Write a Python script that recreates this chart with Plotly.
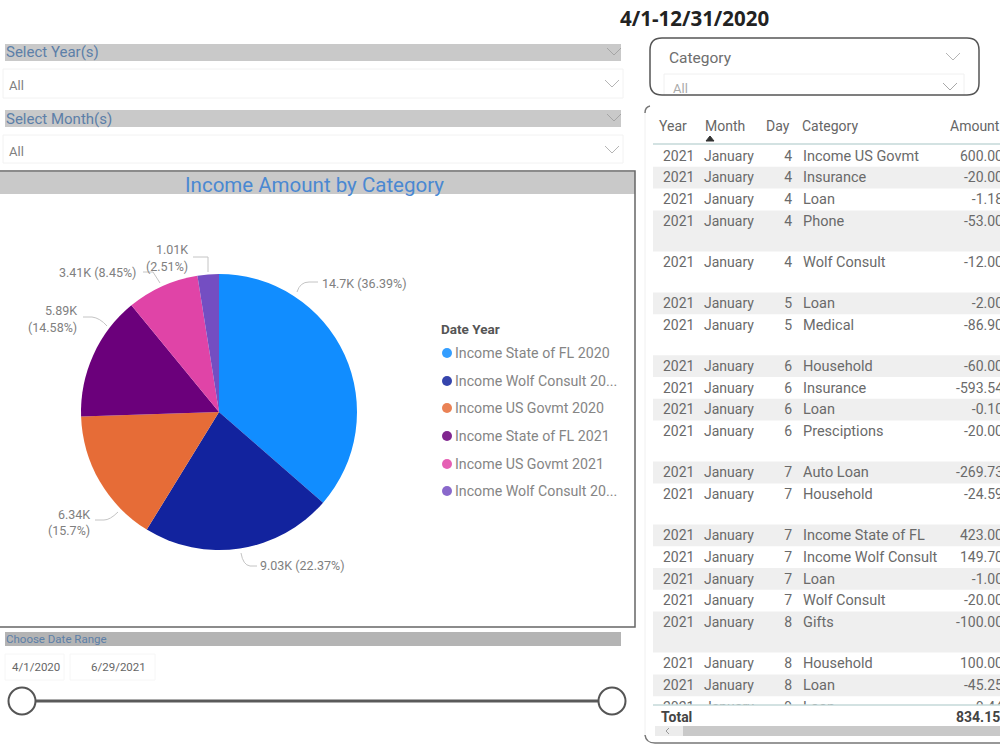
import plotly.graph_objects as go

# pie chart
SLICE_NAMES = ['Income State of FL 2020', 'Income Wolf Consult 2020', 'Income US Govmt 2020',
               'Income State of FL 2021', 'Income US Govmt 2021', 'Income Wolf Consult 2021']
LEGEND_NAMES = ['Income State of FL 2020', 'Income Wolf Consult 20...', 'Income US Govmt 2020',
                'Income State of FL 2021', 'Income US Govmt 2021', 'Income Wolf Consult 20...']
SLICE_AMOUNTS = [14700, 9030, 6340, 5890, 3410, 1010]
SLICE_SHORT = ['14.7K', '9.03K', '6.34K', '5.89K', '3.41K', '1.01K']
SLICE_PCT = ['36.39%', '22.37%', '15.7%', '14.58%', '8.45%', '2.51%']
SLICE_COLOURS = ['#118DFF', '#12239E', '#E66C37', '#6B007B', '#E044A7', '#744EC2']

# table
HEADERS = ['Year', 'Month', 'Day', 'Category', 'Amount']
YEARS = [2021] * 21
MONTHS = ['January'] * 21
DAYS = [4, 4, 4, 4, 4, 5, 5, 6, 6, 6, 6, 7, 7, 7, 7, 7, 7, 8, 8, 8, 9]
CATEGORIES = ['Income US Govmt', 'Insurance', 'Loan', 'Phone', 'Wolf Consult', 'Loan', 'Medical',
              'Household', 'Insurance', 'Loan', 'Presciptions', 'Auto Loan', 'Household',
              'Income State of FL', 'Income Wolf Consult', 'Loan', 'Wolf Consult', 'Gifts',
              'Household', 'Loan', 'Loan']
AMOUNTS = ['600.00', '-20.00', '-1.18', '-53.00', '-12.00', '-2.00', '-86.90', '-60.00', '-593.54',
           '-0.10', '-20.00', '-269.73', '-24.59', '423.00', '149.70', '-1.00', '-20.00', '-100.00',
           '100.00', '-45.25', '-0.44']
TOTAL = '834.15'

# rows that wrap onto a second line in the report
TALL_ROWS = {3, 4, 6, 10, 12, 17}

FONT = 'Roboto'
TEXT_GREY = '#6a6a6a'
BAR_GREY = '#c9c9c9'
TITLE_BLUE = '#4a88d2'
SLICER_BLUE = '#5c7fa8'
STRIPE = '#efefef'
TEAL_LINE = '#c4d8d8'

shapes = []
notes = []


def box(x0, y0, x1, y1, fill=None, line=None, width=1, layer='below'):
    shapes.append(dict(type='rect', xref='x', yref='y', x0=x0, y0=y0, x1=x1, y1=y1, layer=layer,
                       fillcolor=fill or 'rgba(0,0,0,0)',
                       line=dict(color=line or 'rgba(0,0,0,0)', width=width if line else 0)))


def path(d, colour, width=1, layer='above', fill=None):
    shapes.append(dict(type='path', xref='x', yref='y', path=d, layer=layer,
                       fillcolor=fill or 'rgba(0,0,0,0)',
                       line=dict(color=colour, width=width)))


def chevron(x, y, colour='#b5b5b5'):
    path(f'M{x - 7},{y - 4} L{x},{y + 3} L{x + 7},{y - 4}', colour, 1)


def label(x, y, text, size=13, colour=TEXT_GREY, anchor='left', bold=False, font=FONT):
    # annotations carry about 2px of padding
    nudge = {'left': -2, 'right': 2, 'center': 0}[anchor]
    notes.append(dict(xref='x', yref='y', x=x + nudge, y=y, text=f'<b>{text}</b>' if bold else text,
                      showarrow=False, xanchor=anchor, yanchor='middle',
                      font=dict(family=font, size=size, color=colour)))


# left slicers
box(5, 44, 621, 61, fill=BAR_GREY)
label(6, 52, 'Select Year(s)', 15, SLICER_BLUE)
chevron(614, 52, '#a5a5a5')
box(3, 69, 623, 98, line='#f2f2f2')
label(9, 85, 'All', 13, '#808080')
chevron(612, 84)
box(5, 110, 621, 127, fill=BAR_GREY)
label(6, 119, 'Select Month(s)', 15, SLICER_BLUE)
chevron(614, 118, '#a5a5a5')
box(3, 135, 623, 163, line='#f2f2f2')
label(9, 151, 'All', 13, '#808080')
chevron(612, 150)

# chart panel
box(-2, 172, 635, 194, fill=BAR_GREY)
box(-2, 171, 635, 627, line='#666666', width=1.5)
label(314, 185, 'Income Amount by Category', 20.5, TITLE_BLUE, anchor='center')

# leader lines next to the pie
path('M297,292 Q300,282 309,282 L318,282', '#c4c4c4')
path('M241,553 Q243,565 250,566 L257,566', '#c4c4c4')
path('M118,512 Q110,520 104,520 L95,520', '#c4c4c4')
path('M107,326 Q100,318 92,317 L83,317', '#c4c4c4')
path('M160,283 L153,272 L143,272', '#c4c4c4')
path('M208,272 L208,257 L193,257', '#c4c4c4')

label(322, 283, f'{SLICE_SHORT[0]} ({SLICE_PCT[0]})', 12.5, '#808080')
label(260, 565, f'{SLICE_SHORT[1]} ({SLICE_PCT[1]})', 12.5, '#808080')
label(90, 514, SLICE_SHORT[2], 12.5, '#808080', anchor='right')
label(90, 530, f'({SLICE_PCT[2]})', 12.5, '#808080', anchor='right')
label(77, 310, SLICE_SHORT[3], 12.5, '#808080', anchor='right')
label(77, 327, f'({SLICE_PCT[3]})', 12.5, '#808080', anchor='right')
label(59, 272, f'{SLICE_SHORT[4]} ({SLICE_PCT[4]})', 12.5, '#808080')
label(188, 249, SLICE_SHORT[5], 12.5, '#808080', anchor='right')
label(188, 266, f'({SLICE_PCT[5]})', 12.5, '#808080', anchor='right')

# legend
LEGEND_Y = [353, 381, 408, 436, 464, 491]
label(441, 329, 'Date Year', 13.5, '#555555', bold=True)
for name, y in zip(LEGEND_NAMES, LEGEND_Y):
    label(455, y, name, 14.2, '#858585')

# date range slicer
box(5, 632, 621, 646, fill='#b4b4b4')
label(6, 639, 'Choose Date Range', 11.5, SLICER_BLUE)
box(5, 654, 64, 680, line='#f6f6f6')
box(70, 654, 155, 680, line='#f6f6f6')
label(12, 667, '4/1/2020', 11.5, '#666666')
label(91, 667, '6/29/2021', 11.5, '#666666')
path('M30,701 L600,701', '#5a5a5a', 3, layer='below')

# right hand heading and category slicer
label(620, 18, '4/1-12/31/2020', 20.5, '#222222', bold=True, font='Open Sans')
box(664, 74, 964, 96, line='#f0f0f0')
label(669, 58, 'Category', 15.5, '#6e6e6e')
chevron(953, 57)
chevron(950, 87, '#a8a8a8')

# table rows
tops = [145]
for i in range(len(CATEGORIES)):
    tops.append(tops[-1] + (41 if i in TALL_ROWS else 21.8))
row_y = [t + 12 for t in tops[:-1]]
for i in range(1, len(CATEGORIES), 2):
    box(653, tops[i], 1001, tops[i + 1], fill=STRIPE)

# hides the row running under the total, and the slicer's lower edge
box(646, 705, 1001, 742, fill='white', layer='above')
box(645, 96, 1001, 104, fill='white', layer='above')

path('M662,38 L967,38 Q979,38 979,50 L979,83 Q979,95 967,95 L662,95 Q650,95 650,83 L650,50 Q650,38 662,38 Z',
     '#555555', 1.5)

for head, x in zip(HEADERS, [659, 705, 766, 802, 950]):
    label(x, 126, head, 14, '#666666')
path('M706,141 L710,136 L714,141 Z', '#333333', 1, fill='#333333')
path('M653,144 L1001,144', TEAL_LINE, 1.5)
path('M653,705 L1001,705', TEAL_LINE, 1.5)
label(661, 717, 'Total', 14, '#444444', bold=True)
label(956, 717, TOTAL, 14, '#444444', bold=True)

# scroll bar and outer frame of the table
box(655, 726, 1001, 736, fill='#ececec', layer='above')
box(683, 726, 1001, 736, fill='#c9c9c9', layer='above')
path('M669,728 L666,731 L669,734', '#999999', 1)
path('M645,735 Q646,743 655,743 L1001,743', '#777777', 1.5)
path('M645,113 Q645,107 650,106', '#777777', 1.5)
path('M645,113 L645,735', '#f0f0f0', 1, layer='below')

fig = go.Figure()

fig.add_trace(go.Pie(labels=SLICE_NAMES, values=SLICE_AMOUNTS, sort=False, direction='clockwise',
                     rotation=0, textinfo='none', hoverinfo='label+value+percent',
                     marker=dict(colors=SLICE_COLOURS, line=dict(width=0)),
                     domain=dict(x=[0.081, 0.357], y=[1 - 550 / 750, 1 - 274 / 750]),
                     showlegend=False))

# legend dots
fig.add_trace(go.Scatter(x=[447] * 6, y=LEGEND_Y, mode='markers', hoverinfo='skip',
                         marker=dict(size=10, color=SLICE_COLOURS, opacity=0.85)))

# slider handles
fig.add_trace(go.Scatter(x=[22, 612], y=[701, 701], mode='markers', hoverinfo='skip',
                         marker=dict(size=27, color='white', line=dict(color='#555555', width=2))))

# table columns, clipped by the right edge of the page like the report
fig.add_trace(go.Scatter(x=[663] * len(YEARS), y=row_y, mode='text', text=YEARS,
                         textposition='middle right', hoverinfo='skip',
                         textfont=dict(family=FONT, size=14, color=TEXT_GREY)))
fig.add_trace(go.Scatter(x=[704] * len(MONTHS), y=row_y, mode='text', text=MONTHS,
                         textposition='middle right', hoverinfo='skip',
                         textfont=dict(family=FONT, size=14, color=TEXT_GREY)))
fig.add_trace(go.Scatter(x=[792] * len(DAYS), y=row_y, mode='text', text=DAYS,
                         textposition='middle left', hoverinfo='skip',
                         textfont=dict(family=FONT, size=14, color=TEXT_GREY)))
fig.add_trace(go.Scatter(x=[803] * len(CATEGORIES), y=row_y, mode='text', text=CATEGORIES,
                         textposition='middle right', hoverinfo='skip',
                         textfont=dict(family=FONT, size=14.5, color=TEXT_GREY)))
fig.add_trace(go.Scatter(x=[1003] * len(AMOUNTS), y=row_y, mode='text', text=AMOUNTS,
                         textposition='middle left', hoverinfo='skip',
                         textfont=dict(family=FONT, size=14, color=TEXT_GREY)))
# "All" of the category slicer, cut by the box edge
fig.add_trace(go.Scatter(x=[673], y=[90], mode='text', text=['All'], textposition='middle right',
                         hoverinfo='skip', textfont=dict(family=FONT, size=13, color='#aaaaaa')))

fig.update_layout(width=1000, height=750, margin=dict(l=0, r=0, t=0, b=0), showlegend=False,
                  paper_bgcolor='white', plot_bgcolor='white', shapes=shapes, annotations=notes)
fig.update_xaxes(range=[0, 1000], visible=False, fixedrange=True)
fig.update_yaxes(range=[750, 0], visible=False, fixedrange=True)

fig.write_html("out.html", config={'displayModeBar': False},
               post_script="document.body.style.margin='0';document.body.style.overflow='hidden';")
